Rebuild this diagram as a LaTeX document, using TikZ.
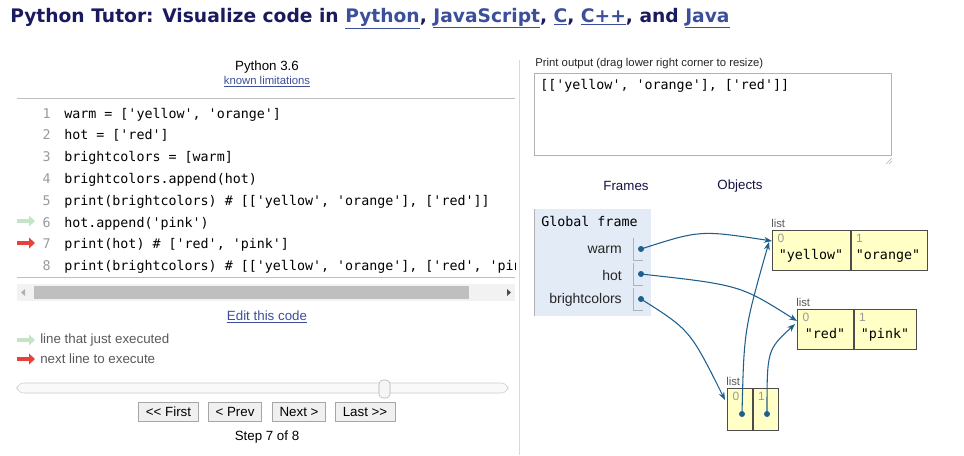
\documentclass[tikz,border=0pt]{standalone}
\usepackage{fontspec}
\setmainfont{Liberation Sans}
\setmonofont{DejaVu Sans Mono}
\newfontfamily\titlefont{DejaVu Sans}
\usetikzlibrary{arrows.meta,calc,positioning}
\definecolor{navy}{HTML}{1A1A5E}
\definecolor{linkblue}{HTML}{3B4F9A}
\definecolor{ptarrow}{HTML}{1F5F8B}
\definecolor{heapyellow}{HTML}{FFFFC6}
\definecolor{framebg}{HTML}{E2EBF6}
\definecolor{okgreen}{HTML}{C5E4C5}
\definecolor{nextred}{HTML}{E8403A}
\tikzset{
    codesty/.style={anchor=base west,inner sep=0pt,font=\ttfamily\fontsize{10}{12}\selectfont},
    numsty/.style={anchor=base east,inner sep=0pt,text=gray!80,font=\ttfamily\fontsize{10}{12}\selectfont},
    uisty/.style={inner sep=0pt,font=\fontsize{10}{12}\selectfont},
    smallsty/.style={inner sep=0pt,font=\fontsize{8.5}{10}\selectfont},
    btnsty/.style={draw=gray!70,fill=gray!12,minimum height=14.5pt,inner sep=2pt,font=\fontsize{10}{12}\selectfont},
    cellsty/.style={draw=gray!60!black,fill=heapyellow,minimum height=30pt,inner sep=0pt},
    idxsty/.style={anchor=north west,inner sep=0pt,text=gray!80,font=\fontsize{9}{10}\selectfont},
    ptrsty/.style={ptarrow,thick,-{Stealth[length=6pt]}},
    dotsty/.style={circle,fill=ptarrow,inner sep=0pt,minimum size=4.5pt},
    linestepsty/.style={-{Triangle[length=4.5pt,width=8pt]},line width=3pt},
}
\begin{document}
\begin{tikzpicture}[x=0.75pt,y=-0.75pt]
\useasboundingbox (0,0) rectangle (964,455);

% title
\node[anchor=base west,inner sep=0pt,text=navy,font=\titlefont\bfseries\fontsize{14}{16}\selectfont] (title) at (10,22)
  {Python Tutor: Visualize code in \textcolor{linkblue}{\underline{Python}}, \textcolor{linkblue}{\underline{JavaScript}}, \textcolor{linkblue}{\underline{C}}, \textcolor{linkblue}{\underline{C++}}, and \textcolor{linkblue}{\underline{Java}}};

% code panel
\node[uisty] (pyver) at (267,67) {Python 3.6};
\node[smallsty,text=linkblue,below=2pt of pyver] (limits) {\underline{known limitations}};
\draw[gray!50] (17,98) -- (515,98) (17,277) -- (515,277);
\begin{scope}
\clip (17,98) rectangle (515,277);
\foreach \n/\txt in {1/{warm = ['yellow', 'orange']},
                     2/{hot = ['red']},
                     3/{brightcolors = [warm]},
                     4/{brightcolors.append(hot)},
                     5/{print(brightcolors) \# [['yellow', 'orange'], ['red']]},
                     6/{hot.append('pink')},
                     7/{print(hot) \# ['red', 'pink']},
                     8/{print(brightcolors) \# [['yellow', 'orange'], ['red', 'pink']]}}{
  \node[numsty] (num\n) at (51,{113+21.8*(\n-1)+5}) {\n};
  \node[codesty] (code\n) at (64,{113+21.8*(\n-1)+5}) {\txt};
}
\end{scope}
\draw[linestepsty,okgreen] (17,221) -- (35,221);
\draw[linestepsty,nextred] (17,243) -- (35,243);

% scrollbar
\fill[gray!10] (17,284) rectangle (515,301);
\fill[gray!50] (34,286) rectangle (469,299);
\fill[gray!60] (25,289) -- (21,292.5) -- (25,296) -- cycle;
\fill[black!70] (507,289) -- (511,292.5) -- (507,296) -- cycle;

\node[uisty,text=linkblue] (edit) at (267,317) {\underline{Edit this code}};
\draw[linestepsty,okgreen] (17,340) -- (35,340);
\node[uisty,anchor=west,text=gray!70!black] (legok) at (40,340) {line that just executed};
\draw[linestepsty,nextred] (17,359) -- (35,359);
\node[uisty,anchor=west,text=gray!70!black] (legnext) at (40,359) {next line to execute};

% slider and buttons
\draw[gray!40,fill=gray!5,rounded corners=5pt] (17,383) rectangle (508,393);
\draw[gray!60,fill=gray!8,rounded corners=3pt] (379,380) rectangle (390,398);
\node[btnsty,minimum width=45pt] (first) at (168.5,412) {<{}< First};
\node[btnsty,minimum width=40pt] (prev) at (235,412) {< Prev};
\node[btnsty,minimum width=40pt] (next) at (299,412) {Next >};
\node[btnsty,minimum width=45pt] (last) at (365,412) {Last >{}>};
\node[uisty] (step) at (267,437) {Step 7 of 8};

\draw[gray!30] (519,60) -- (519,455);

% print output
\node[smallsty,anchor=west,text=gray!30!black] (outlbl) at (535,64) {Print output (drag lower right corner to resize)};
\draw[gray!60] (534,73) rectangle (891,155);
\node[codesty] (outtxt) at (540,89) {[['yellow', 'orange'], ['red']]};
\draw[gray!60] (886,164) -- (892,158) (889,164) -- (892,161);

% frames
\node[uisty,text=navy!70!black] (frames) at (626,186) {Frames};
\node[uisty,text=navy!70!black] (objects) at (740,186) {Objects};
\fill[framebg] (534,209) rectangle (651,316);
\draw[gray!60] (534,209) -- (534,316);
\node[codesty] (gframe) at (541,226) {Global frame};
\foreach \v/\y in {warm/250,hot/275,brightcolors/300}{
  \node[uisty,anchor=east,text=black!85,font=\fontsize{10.5}{12}\selectfont] (var\v) at (622,\y) {\v};
  \draw[gray!60] (633,{\y-12}) -- (633,{\y+10}) -- (643,{\y+10});
  \node[dotsty] (dot\v) at (641,{\y-1}) {};
}

% heap lists
\node[smallsty,anchor=south west,text=gray!70!black] (lbla) at (771,228) {list};
\node[cellsty,minimum width=58.5pt,anchor=north west] (lista0) at (772,230) {};
\node[cellsty,minimum width=57pt,anchor=north west] (lista1) at (lista0.north east) {};
\node[idxsty] at ([xshift=4pt,yshift=-3pt]lista0.north west) {0};
\node[idxsty] at ([xshift=4pt,yshift=-3pt]lista1.north west) {1};
\node[codesty,anchor=base] at (811,259) {"yellow"};
\node[codesty,anchor=base] at (888,259) {"orange"};

\node[smallsty,anchor=south west,text=gray!70!black] (lblb) at (796,307) {list};
\node[cellsty,minimum width=42pt,anchor=north west] (listb0) at (797,309) {};
\node[cellsty,minimum width=47pt,anchor=north west] (listb1) at (listb0.north east) {};
\node[idxsty] at ([xshift=4pt,yshift=-3pt]listb0.north west) {0};
\node[idxsty] at ([xshift=4pt,yshift=-3pt]listb1.north west) {1};
\node[codesty,anchor=base] at (825,338) {"red"};
\node[codesty,anchor=base] at (885,338) {"pink"};

\node[smallsty,anchor=south west,text=gray!70!black] (lblc) at (726,386) {list};
\node[cellsty,minimum width=18.75pt,minimum height=31.5pt,anchor=north west] (listc0) at (727,388) {};
\node[cellsty,minimum width=18.75pt,minimum height=31.5pt,anchor=north west] (listc1) at (listc0.north east) {};
\node[idxsty] at ([xshift=4pt,yshift=-3pt]listc0.north west) {0};
\node[idxsty] at ([xshift=4pt,yshift=-3pt]listc1.north west) {1};
\node[dotsty] (dotc0) at (742,414) {};
\node[dotsty] (dotc1) at (767,414) {};

% pointers
\draw[ptrsty] (dotwarm.center) .. controls (700,230) .. (lista0.west |- 0,241);
\draw[ptrsty] (dothot.center) .. controls (740,285) .. (listb0.west |- 0,321);
\draw[ptrsty] (dotbrightcolors.center) .. controls (690,330) .. (725,400);
\draw[ptrsty] (dotc0.center) .. controls (744,330) .. (769,242);
\draw[ptrsty] (dotc1.center) .. controls (767,350) .. (795,324);
\end{tikzpicture}
\end{document}
